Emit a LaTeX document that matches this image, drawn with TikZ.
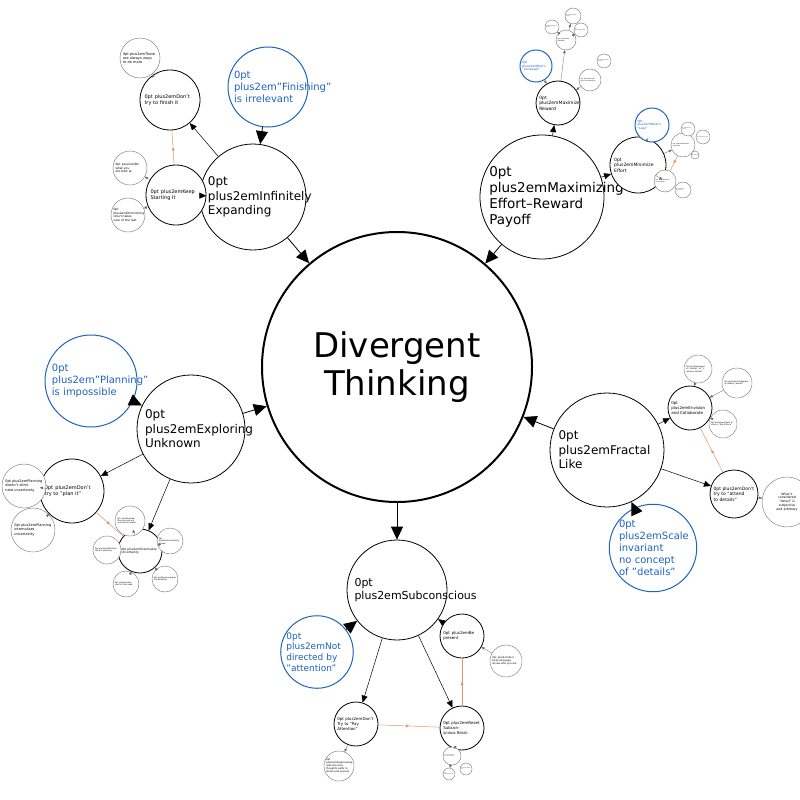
\documentclass[tikz,border=0pt]{standalone}
\usepackage{fontspec}
\setmainfont{DejaVu Sans}
\usetikzlibrary{arrows.meta,decorations.markings}
\definecolor{bl}{RGB}{30,100,190}
\definecolor{org}{RGB}{220,150,110}
\tikzset{
 c/.style={circle,draw=black,line width=0.8pt,align=center,inner sep=0pt,fill=white},
 s/.style={circle,draw=black!55,line width=0.4pt,align=center,inner sep=0pt,fill=white},
 b/.style={circle,draw=bl,line width=1pt,align=center,inner sep=0pt,text=bl,fill=white},
 arr/.style={line width=0.5pt,-{Triangle[length=7pt,width=6pt]}},
 big/.style={line width=0.8pt,-{Triangle[length=13pt,width=12pt]}},
 tin/.style={line width=0.3pt,draw=black!60,-{Triangle[length=3pt,width=2.5pt]}},
 ol/.style={line width=0.5pt,draw=org,postaction={decorate},decoration={markings,mark=at position 0.5 with {\arrow{Triangle[length=3pt,width=3pt]}}}}
}
\newcommand\nd[7]{\node[#7,minimum size=\dimexpr#4pt*2\relax,text width=\dimexpr#4pt*17/10\relax,font=\fontsize{#5pt}{\dimexpr#5pt*12/10\relax}\selectfont\hyphenpenalty=10000\exhyphenpenalty=10000] (#1) at (#2,#3) {#6};}
\begin{document}
\begin{tikzpicture}[x=1pt,y=-1pt]
\useasboundingbox (0,0) rectangle (800,800);
% main
\node[circle,draw,line width=2pt,minimum size=270pt,align=center,font=\fontsize{34pt}{38pt}\selectfont\addfontfeatures{FakeBold=-0.3}] (M) at (397,367) {Divergent\\Thinking};
\nd{IE}{253}{197}{53}{12}{Infinitely\\Expanding}{c}
\nd{MX}{542}{197}{62}{13.5}{Maximizing\\Effort--Reward\\Payoff}{c}
\nd{EU}{191}{429}{54}{12}{Exploring\\Unknown}{c}
\nd{FL}{607}{450}{57}{12}{Fractal Like}{c}
\nd{SC}{397}{590}{50}{11}{Subconscious}{c}
\nd{B1}{268}{87}{40}{10}{"Finishing" is irrelevant}{b}
\nd{B2}{91}{381}{46}{10}{"Planning" is impossible}{b}
\nd{B3}{653}{548}{40}{10}{Scale invariant no concept of "details"}{b}
\nd{B4}{317}{652}{36}{9}{Not directed by "attention"}{b}
\draw[big] (IE) -- (M); \draw[big] (MX) -- (M); \draw[big] (EU) -- (M); \draw[big] (FL) -- (M); \draw[big] (M) -- (SC);
\draw[big] (B1) -- (IE); \draw[big] (B2) -- (EU); \draw[big] (B3) -- (FL); \draw[big] (B4) -- (SC);
% Infinitely expanding
\nd{DF}{170}{100}{30}{5}{Don't try to finish it}{c}
\nd{TA}{140}{58}{20}{3.5}{There are always ways to do more}{s}
\nd{KS}{176}{195}{30}{5}{Keep Starting It}{c}
\nd{DW}{130}{168}{17}{3}{Do what you are best at}{s}
\nd{DR}{128}{215}{17}{3}{Diminishing return takes care of the rest}{s}
\draw[arr] (IE) -- (DF); \draw[arr] (IE) -- (KS);
\draw[tin] (DF) -- (TA); \draw[tin] (KS) -- (DW); \draw[tin] (KS) -- (DR);
\draw[ol] (KS) -- (DF);
% Maximizing
\nd{MR}{558}{103}{22}{4.5}{Maximize Reward}{c}
\nd{ME}{638}{165}{28}{4.5}{Minimize Effort}{c}
\draw[arr] (MX) -- (MR); \draw[arr] (MX) -- (ME);
\nd{WI}{536}{66}{16}{3}{What's "Increased"}{b}
\nd{BR}{566}{40}{10}{1.5}{Be rewarded}{s}
\nd{s1}{573}{16}{8}{1}{Intrinsic reward}{s}
\nd{s2}{552}{27}{7}{1}{Extrinsic reward}{s}
\nd{s3}{581}{30}{7}{1}{Recognition}{s}
\nd{SW}{590}{80}{11}{1.5}{Small wins are rewarding}{s}
\nd{s4}{604}{61}{7}{1}{Progress is reward}{s}
\draw[tin] (WI) -- (MR); \draw[tin] (MR) -- (BR); \draw[tin] (SW) -- (MR);
\draw[tin] (BR) -- (s1); \draw[tin] (BR) -- (s2); \draw[tin] (BR) -- (s3);
\nd{WL}{652}{125}{17}{3}{What's "Lazy"}{b}
\nd{m1}{683}{145}{12}{1.5}{Minimize overhead}{s}
\nd{m2}{688}{129}{7}{1}{Less process}{s}
\nd{m3}{703}{137}{7}{1}{Less tools}{s}
\nd{m4}{695}{155}{4}{1}{}{s}
\nd{m5}{665}{181}{11}{1.5}{Don't force things}{s}
\nd{m6}{683}{190}{8}{1}{Go with the flow}{s}
\draw[tin] (WL) -- (ME); \draw[tin] (ME) -- (m1); \draw[tin] (m5) -- (ME);
\draw[ol] (m1) -- (m5);
% Exploring
\nd{DP}{72}{491}{32}{5}{Don't try to "plan it"}{c}
\nd{PD}{24}{486}{22}{3.5}{Planning doesn't eliminate uncertainty}{s}
\nd{PI}{33}{530}{22}{3.5}{Planning internalizes uncertainty}{s}
\nd{XU}{140}{551}{22}{3}{Externalize Uncertainty}{c}
\nd{e1}{130}{521}{15}{2}{Help them accept any uncertainty ahead}{s}
\nd{e2}{170}{541}{13}{2}{Uncertainty Ahead}{s}
\nd{e3}{165}{579}{13}{2}{Leverage the flexibility}{s}
\nd{e4}{126}{584}{13}{2}{Use tools of the trade}{s}
\nd{e5}{107}{550}{14}{2}{Minimize upfront planning}{s}
\draw[arr] (EU) -- (DP); \draw[arr] (EU) -- (XU);
\draw[tin] (PD) -- (DP); \draw[tin] (PI) -- (DP);
\draw[tin] (e1) -- (XU); \draw[tin] (e2) -- (XU); \draw[tin] (e3) -- (XU); \draw[tin] (e4) -- (XU);
\draw[ol] (DP) -- (XU);
% Fractal
\nd{EC}{690}{408}{22}{4}{Envision and Collaborate}{c}
\nd{f1}{698}{369}{14}{2}{Agree on "details" vs "irrelevant details"}{s}
\nd{f2}{737}{383}{15}{2}{Collaborate on adding "details"}{s}
\nd{f3}{723}{424}{14}{2}{Create \& share a "Big Picture"}{s}
\nd{AD}{734}{494}{24}{4.5}{Don't try to "attend to details"}{c}
\node[s,minimum size=50pt,text width=22pt,font=\fontsize{3.2pt}{3.9pt}\selectfont] (f4) at (787,502) {What's considered "detail" is subjective and arbitrary};
\draw[arr] (FL) -- (EC); \draw[arr] (FL) -- (AD);
\draw[tin] (f1) -- (EC); \draw[tin] (f2) -- (EC); \draw[tin] (f3) -- (EC); \draw[tin] (AD) -- (f4);
\draw[ol] (AD) -- (EC);
% Subconscious
\nd{PA}{356}{724}{22}{4}{Don't Try to "Pay Attention"}{c}
\nd{RB}{462}{728}{22}{4}{Reset Subconscious Brain}{c}
\nd{BP}{462}{636}{22}{4}{Be present}{c}
\nd{u1}{506}{661}{16}{2.5}{Your body language shows who you are}{s}
\nd{u2}{339}{766}{15}{2.5}{Suppressing subconscious thoughts adds to stress and anxiety}{s}
\nd{u3}{452}{756}{9}{1}{Allow your mind to wander}{s}
\nd{u4}{449}{774}{6}{1}{Daydream}{s}
\nd{u5}{466}{769}{6}{1}{Sleep on it}{s}
\draw[arr] (SC) -- (PA); \draw[arr] (SC) -- (RB); \draw[arr] (BP) -- (SC);
\draw[tin] (u1) -- (BP); \draw[tin] (PA) -- (u2); \draw[tin] (u3) -- (RB); \draw[tin] (u3) -- (u4);
\draw[ol] (PA) -- (RB); \draw[ol] (RB) -- (BP);
\end{tikzpicture}
\end{document}
